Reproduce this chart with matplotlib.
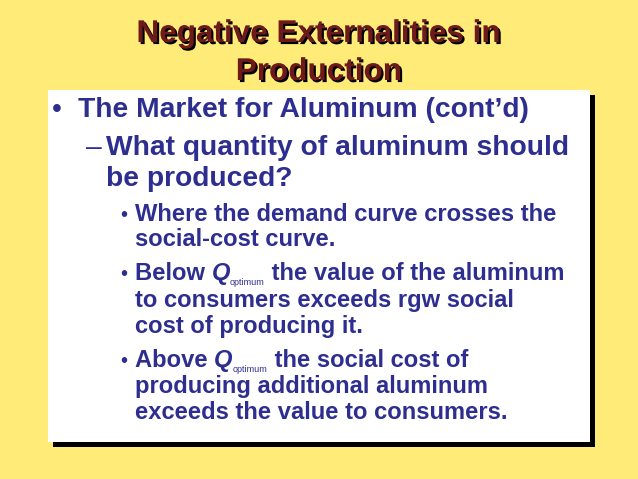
import matplotlib
matplotlib.use("Agg")
import matplotlib.pyplot as plt
import matplotlib.patheffects as pe
from matplotlib import font_manager
from matplotlib.patches import Rectangle

# slide content
title_lines = ["Negative Externalities in", "Production"]
level1 = "The Market for Aluminum (cont\u2019d)"
level2 = ["What quantity of aluminum should", "be produced?"]
point_where = ["Where the demand curve crosses the", "social-cost curve."]
point_below = [" the value of the aluminum", "to consumers exceeds rgw social", "cost of producing it."]
point_above = [" the social cost of", "producing additional aluminum", "exceeds the value to consumers."]

BG = "#FFEB78"
NAVY = "#2D2E8F"
MAROON = "#6E1A1A"
PX = 0.72  # px -> pt at dpi 100

# narrow face for the subscript if there is one
try:
    font_manager.findfont("Liberation Sans Narrow", fallback_to_default=False)
    sub_family, sub_size = "Liberation Sans Narrow", 11.5
except ValueError:
    sub_family, sub_size = "Liberation Sans", 9.0

fig = plt.figure(figsize=(6.38, 4.79), dpi=100)
fig.patch.set_facecolor(BG)
ax = fig.add_axes([0, 0, 1, 1])
ax.set_xlim(0, 638)
ax.set_ylim(479, 0)
ax.axis("off")

# white box with black drop shadow
ax.add_patch(Rectangle((53, 95), 542, 352, facecolor="black", edgecolor="none"))
ax.add_patch(Rectangle((48, 90), 542, 352, facecolor="white", edgecolor="none"))

shadow = [pe.withSimplePatchShadow(offset=(1.5, -1.5), shadow_rgbFace="black", alpha=1.0)]
for txt, y in zip(title_lines, [42, 80]):
    ax.text(319, y, txt, ha="center", va="baseline", fontsize=31.5 * PX,
            fontweight="bold", family="Liberation Sans", color=MAROON,
            path_effects=shadow)

fig.canvas.draw()
renderer = fig.canvas.get_renderer()


def line(x, y, txt, size, **kw):
    props = dict(family="Liberation Sans", fontweight="bold", color=NAVY,
                 va="baseline", fontsize=size * PX)
    props.update(kw)
    t = ax.text(x, y, txt, **props)
    return x + t.get_window_extent(renderer).width


big = 28.3
small = 23.8

# level 1
ax.text(52, 117, "\u2022", family="Liberation Sans", color=NAVY, va="baseline", fontsize=big * PX)
line(78, 117, level1, big)

# level 2
ax.text(86, 155, "\u2013", family="Liberation Sans", color=NAVY, va="baseline", fontsize=big * PX)
line(106, 155, level2[0], big)
line(106, 186, level2[1], big)

# level 3
ys_where = [221, 246]
ys_below = [280, 307, 333]
ys_above = [367, 393, 419]
for y in [ys_where[0], ys_below[0], ys_above[0]]:
    ax.text(120, y, "\u2022", family="Liberation Sans", color=NAVY, va="baseline", fontsize=small * 0.85 * PX)

for txt, y in zip(point_where, ys_where):
    line(135, y, txt, small)

for word, lines_, ys in [("Below ", point_below, ys_below), ("Above ", point_above, ys_above)]:
    x = line(135, ys[0], word, small)
    x = line(x, ys[0], "Q", small, style="italic")
    x = line(x, ys[0] + 5, "optimum", sub_size, fontweight="normal", family=sub_family)
    line(x, ys[0], lines_[0], small)
    for txt, y in zip(lines_[1:], ys[1:]):
        line(135, y, txt, small)

fig.savefig("out.png", dpi=100, facecolor=BG)
